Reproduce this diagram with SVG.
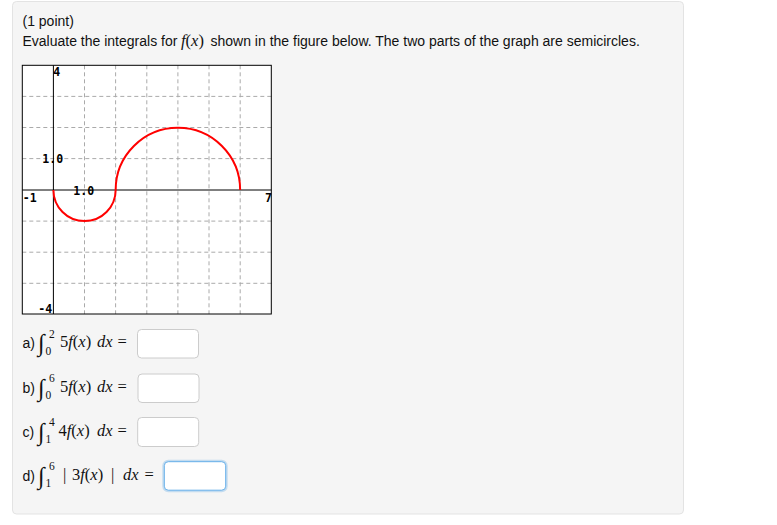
<svg xmlns="http://www.w3.org/2000/svg" width="777" height="525" viewBox="0 0 777 525">
<style>
.sans{font-family:"Liberation Sans",Arial,Helvetica,sans-serif;font-size:14px;fill:#111}
.math{font-family:"Liberation Serif","Times New Roman",serif;font-size:16.5px;fill:#111}
.it{font-style:italic}
.lim{font-family:"Liberation Serif","Times New Roman",serif;font-size:11.5px;fill:#111}
.int{font-family:"Liberation Serif","Times New Roman",serif;font-size:24px;font-style:italic;fill:#111}
.tick{font-family:"DejaVu Sans Mono","Liberation Mono",monospace;font-size:11.6px;font-weight:bold;fill:#000}
.grid{stroke:#aaaaaa;stroke-width:1;stroke-dasharray:4 3;fill:none}
.axis{stroke:#000;stroke-width:1;fill:none}
.box{fill:#fff;stroke:#cccccc;stroke-width:1}
.curve{stroke:#ff0000;stroke-width:2;fill:none}
</style>
<rect width="777" height="525" fill="#ffffff"/>
<g id="panel">
<rect x="12.5" y="1.5" width="671" height="512.5" rx="4" fill="#f5f5f5" stroke="#e3e3e3"/>
</g>
<g id="heading">
<text class="sans" x="22.5" y="25.5">(1 point)</text>
<text class="sans" x="22.5" y="46">Evaluate the integrals for</text>
<text class="math" x="181" y="46"><tspan class="it">f</tspan>(<tspan class="it">x</tspan>)</text>
<text class="sans" x="210.5" y="46">shown in the figure below. The two parts of the graph are semicircles.</text>
</g>
<g id="graph">
<rect x="22.3" y="65.3" width="249" height="248.7" fill="#ffffff"/>
<g class="grid">
<path d="M84.5 65.3V314M115.6 65.3V314M146.8 65.3V314M177.9 65.3V314M209 65.3V314M240.2 65.3V314"/>
<path d="M22.3 96.4H271.3M22.3 127.5H271.3M22.3 158.6H271.3M22.3 221.1H271.3M22.3 252.2H271.3M22.3 283.3H271.3"/>
</g>
<path class="axis" d="M53.4 65.3V314M22.3 190H271.3"/>
<rect x="22.3" y="65.3" width="249" height="248.7" fill="none" stroke="#000" stroke-width="1"/>
<g class="tick">
<text x="53.3" y="76">4</text>
<text x="42.3" y="163">1.0</text>
<text x="73.3" y="195">1.0</text>
<text x="22.7" y="201.5">-1</text>
<text x="265" y="201.5">7</text>
<text x="38.3" y="313">-4</text>
</g>
<g id="connectors">
<path class="curve" d="M53.4 190A31.125 31.1 0 0 0 115.65 190A62.25 62.2 0 0 1 240.15 190"/>
</g>
</g>
<g id="qa">
<text class="sans" x="22.5" y="348">a)</text>
<text class="int" x="38" y="351">∫</text>
<text class="lim" x="45.5" y="354.5">0</text>
<text class="lim" x="49" y="337.5">2</text>
<text class="math" x="60" y="347"><tspan>5</tspan><tspan class="it">f</tspan>(<tspan class="it">x</tspan>)</text>
<text class="math it" x="97" y="347">dx</text>
<text class="math" x="117.5" y="347">=</text>
<rect class="box" x="137.5" y="329.5" width="61" height="28.5" rx="4"/>
</g>
<g id="qb">
<text class="sans" x="22.5" y="392.5">b)</text>
<text class="int" x="38" y="395.5">∫</text>
<text class="lim" x="45.5" y="399">0</text>
<text class="lim" x="49" y="382">6</text>
<text class="math" x="60" y="391.5"><tspan>5</tspan><tspan class="it">f</tspan>(<tspan class="it">x</tspan>)</text>
<text class="math it" x="97" y="391.5">dx</text>
<text class="math" x="117.5" y="391.5">=</text>
<rect class="box" x="138" y="374" width="61" height="28.5" rx="4"/>
</g>
<g id="qc">
<text class="sans" x="22.5" y="436.5">c)</text>
<text class="int" x="38" y="439.5">∫</text>
<text class="lim" x="45.5" y="443">1</text>
<text class="lim" x="49" y="426">4</text>
<text class="math" x="58.5" y="435.5"><tspan>4</tspan><tspan class="it">f</tspan>(<tspan class="it">x</tspan>)</text>
<text class="math it" x="97" y="435.5">dx</text>
<text class="math" x="117.5" y="435.5">=</text>
<rect class="box" x="137.7" y="417.5" width="61" height="29" rx="4"/>
</g>
<g id="qd">
<text class="sans" x="22.5" y="480.5">d)</text>
<text class="int" x="38" y="483.5">∫</text>
<text class="lim" x="45.5" y="487">1</text>
<text class="lim" x="49" y="470">6</text>
<text class="math" x="63" y="479.5">|</text>
<text class="math" x="72" y="479.5"><tspan>3</tspan><tspan class="it">f</tspan>(<tspan class="it">x</tspan>)</text>
<text class="math" x="111" y="479.5">|</text>
<text class="math it" x="123" y="479.5">dx</text>
<text class="math" x="144.5" y="479.5">=</text>
<rect x="164.3" y="461.7" width="61.4" height="28.5" rx="4" fill="none" stroke="#66afe9" stroke-opacity="0.35" stroke-width="4"/>
<rect x="164.3" y="461.7" width="61.4" height="28.5" rx="4" fill="#fff" stroke="#66afe9" stroke-width="1"/>
</g>
</svg>
